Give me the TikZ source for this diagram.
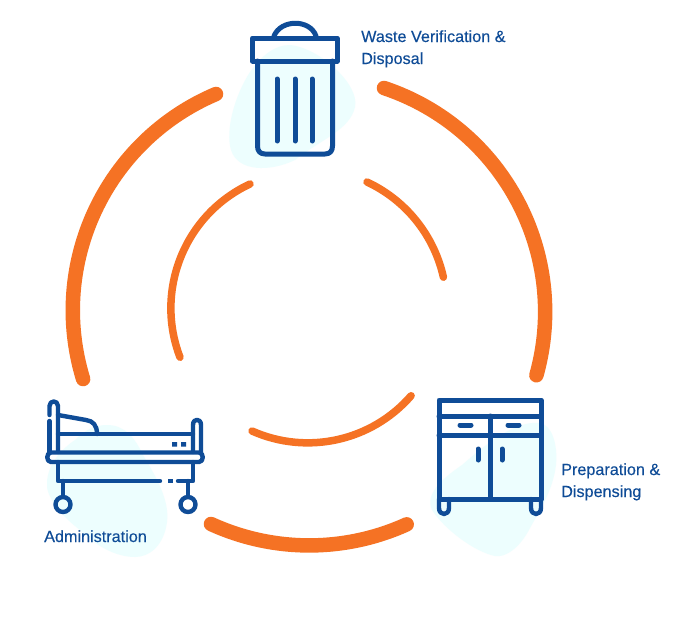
\documentclass[tikz,border=0pt]{standalone}
\usepackage{fontspec}
\setmainfont{Liberation Sans}
\definecolor{ink}{HTML}{0F4C97}
\definecolor{ora}{HTML}{F57224}
\definecolor{blob}{HTML}{EDFEFE}
\tikzset{
  outerarc/.style={draw=ora,line width=14.5pt,line cap=round},
  innerarc/.style={draw=ora,line width=7.5pt,line cap=round},
  icon/.style={draw=ink,line width=5pt,line join=round,line cap=round},
  thin icon/.style={draw=ink,line width=4.4pt,line join=round,line cap=round},
  blobfill/.style={fill=blob,draw=none},
  lab/.style={anchor=base west,inner sep=0pt,text=ink,font=\fontsize{16.2}{19}\selectfont\addfontfeatures{FakeBold=0.3}}
}
\begin{document}
\begin{tikzpicture}[x=1pt,y=-1pt]
\useasboundingbox (0,0) rectangle (678,621);
\fill[white] (0,0) rectangle (678,621);
% blobs
\fill[blobfill] (290,45) .. controls (320,48) and (360,85) .. (355,107) .. controls (350,130) and (320,140) .. (295,160) .. controls (270,172) and (238,172) .. (231,150) .. controls (225,130) and (235,95) .. (250,72) .. controls (262,55) and (275,45) .. (290,45) -- cycle;
\fill[blobfill] (107,425) .. controls (125,425) and (135,438) .. (143,455) .. controls (155,475) and (170,500) .. (167,522) .. controls (164,545) and (150,557) .. (135,557) .. controls (115,557) and (95,545) .. (80,530) .. controls (60,515) and (45,495) .. (47,482) .. controls (48,465) and (60,450) .. (75,440) .. controls (85,430) and (95,425) .. (107,425) -- cycle;
\fill[blobfill] (540,423) .. controls (552,425) and (558,445) .. (556,465) .. controls (553,490) and (540,510) .. (530,528) .. controls (520,548) and (505,558) .. (495,556) .. controls (475,552) and (445,530) .. (432,510) .. controls (425,495) and (440,480) .. (462,465) .. controls (485,445) and (515,420) .. (540,423) -- cycle;
% outer arcs
\draw[outerarc] (216,94) arc[start angle=-113,end angle=-197,radius=235];
\draw[outerarc] (384,88) arc[start angle=-71.5,end angle=15.6,radius=236];
\draw[outerarc] (211,524) arc[start angle=114.6,end angle=65.6,radius=236];
% inner arcs
\draw[innerarc] (250,184) arc[start angle=-115,end angle=-201,radius=137];
\draw[innerarc] (367,182) arc[start angle=-65,end angle=-12.5,radius=138];
\draw[innerarc] (252,431) arc[start angle=114,end angle=41,radius=137];
% trash
\draw[icon] (252.5,38) rectangle (337,61);
\draw[icon] (274,36) .. controls (281,19) and (310,19) .. (316,36);
\draw[icon] (257.5,61) -- (257.5,146) .. controls (257.5,151) and (260,154) .. (265,154) -- (325,154) .. controls (330,154) and (332.5,151) .. (332.5,146) -- (332.5,61);
\draw[icon] (277,79) -- (277,141);
\draw[icon] (295,79) -- (295,141);
\draw[icon] (312,79) -- (312,141);
% bed
\draw[thin icon] (49.5,415) -- (49.5,406) .. controls (49.5,400) and (58,400) .. (58,406) -- (58,452);
\draw[thin icon] (49.5,421) -- (49.5,452);
\draw[thin icon] (193,452) -- (193,425) .. controls (193,418) and (201,418) .. (201,425) -- (201,452);
\draw[thin icon] (51,452.5) -- (199,452.5) .. controls (204,452.5) and (204,462) .. (199,462) -- (51,462) .. controls (46,462) and (46,452.5) .. (51,452.5) -- cycle;
\draw[thin icon] (58,434) -- (193,434);
\draw[thin icon] (58,415) -- (86,420) .. controls (93,421) and (97,425) .. (97,434);
\fill[ink] (172,442) rectangle (177,446.5) (181,442) rectangle (186,446.5);
\draw[thin icon] (58,462) -- (58,481) -- (160,481);
\fill[ink] (167.5,479) rectangle (172.5,483);
\draw[thin icon] (178,481) -- (193,481) -- (193,462);
\draw[thin icon] (63,481) -- (63,497);
\draw[thin icon] (188,481) -- (188,497);
\draw[thin icon] (63,504.5) circle[radius=7.5];
\draw[thin icon] (188,504.5) circle[radius=7.5];
% cabinet
\draw[icon] (439,400) rectangle (541,499);
\draw[icon] (439,416) -- (541,416);
\draw[icon] (439,435) -- (541,435);
\draw[icon] (490,416) -- (490,499);
\draw[icon] (460,425) -- (471,425);
\draw[icon] (508,425) -- (519,425);
\draw[icon] (478,449) -- (478,460);
\draw[icon] (502,449) -- (502,460);
\draw[thin icon] (439,499) -- (439,508) .. controls (439,516) and (449,516) .. (449,508) -- (449,499);
\draw[thin icon] (531,499) -- (531,508) .. controls (531,516) and (541,516) .. (541,508) -- (541,499);
% labels
\node[lab] (waste) at (361,42) {Waste Verification \&};
\node[lab] (disp) at (361,64) {Disposal};
\node[lab] (prep) at (561,475) {Preparation \&};
\node[lab] (disp2) at (561,497) {Dispensing};
\node[lab] (admin) at (44,542) {Administration};
\end{tikzpicture}
\end{document}
